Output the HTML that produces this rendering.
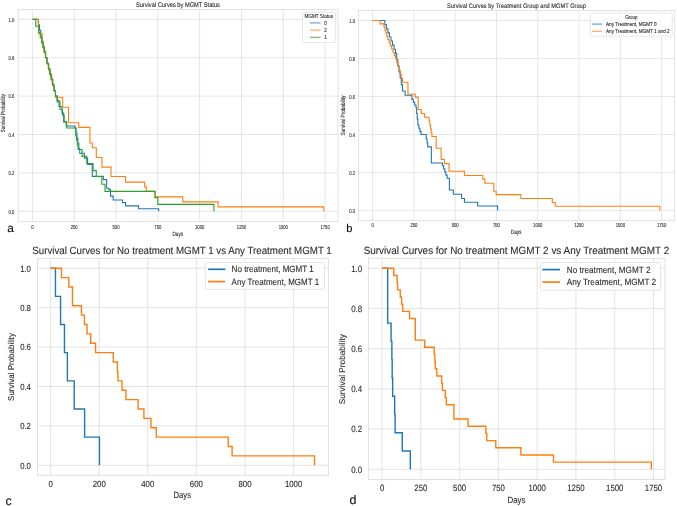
<!DOCTYPE html><html><head><meta charset="utf-8"><style>html,body{margin:0;padding:0;background:#fff;width:677px;height:506px;overflow:hidden}svg{display:block;filter:blur(0.3px);text-rendering:geometricPrecision;font-family:"Liberation Sans",sans-serif}</style></head><body>
<svg width="677" height="506" viewBox="0 0 677 506">
<rect width="677" height="506" fill="#fff"/>
<line x1="32.4" y1="9.6" x2="32.4" y2="221.5" stroke="#e0e0e0" stroke-width="0.8"/>
<line x1="74.21" y1="9.6" x2="74.21" y2="221.5" stroke="#e0e0e0" stroke-width="0.8"/>
<line x1="116.03" y1="9.6" x2="116.03" y2="221.5" stroke="#e0e0e0" stroke-width="0.8"/>
<line x1="157.84" y1="9.6" x2="157.84" y2="221.5" stroke="#e0e0e0" stroke-width="0.8"/>
<line x1="199.66" y1="9.6" x2="199.66" y2="221.5" stroke="#e0e0e0" stroke-width="0.8"/>
<line x1="241.47" y1="9.6" x2="241.47" y2="221.5" stroke="#e0e0e0" stroke-width="0.8"/>
<line x1="283.29" y1="9.6" x2="283.29" y2="221.5" stroke="#e0e0e0" stroke-width="0.8"/>
<line x1="325.1" y1="9.6" x2="325.1" y2="221.5" stroke="#e0e0e0" stroke-width="0.8"/>
<line x1="18.3" y1="211.3" x2="338" y2="211.3" stroke="#e0e0e0" stroke-width="0.8"/>
<line x1="18.3" y1="172.9" x2="338" y2="172.9" stroke="#e0e0e0" stroke-width="0.8"/>
<line x1="18.3" y1="134.5" x2="338" y2="134.5" stroke="#e0e0e0" stroke-width="0.8"/>
<line x1="18.3" y1="96.1" x2="338" y2="96.1" stroke="#e0e0e0" stroke-width="0.8"/>
<line x1="18.3" y1="57.7" x2="338" y2="57.7" stroke="#e0e0e0" stroke-width="0.8"/>
<line x1="18.3" y1="19.3" x2="338" y2="19.3" stroke="#e0e0e0" stroke-width="0.8"/>
<rect x="18.3" y="9.6" width="319.7" height="211.9" fill="none" stroke="#dddddd" stroke-width="0.8"/>
<path d="M32.4,19.3H38.3V24.79H39.52V30.27H40.74V35.76H41.96V41.24H43.18V46.73H44.39V52.21H45.61V57.7H47.02V63.19H48.43V68.67H49.84V74.16H51.25V79.64H52.66V85.13H54.07V90.61H55.48V96.1H57.15V100.52H58.99V106.47H62V113H63.68V121.83H66.19V126.05H75.05V127.97H75.99V133.04H76.92V138.11H77.86V143.18H78.8V148.25H79.73V153.32H84.42V158.12H87.59V164.45H92.28V176.36H103.32V179.62H106.66V188.26H109V189.6H110.51V196.13H113.19V199.97H122.55V202.66H125.56V205.92H138.61V208.8H158.68V211.3" fill="none" stroke="#1f77b4" stroke-width="1.1" stroke-opacity="1.0" stroke-linejoin="miter"/>
<path d="M32.4,19.3H38.42V33.7H42.1V44.26H43.77V50.88H45.45V57.51H47.12V64.13H48.79V70.76H50.46V77.38H52.14V84H53.81V90.63H55.48V97.25H62.67V107.24H68.53V122.79H78.73V127.4H89.94V142.95H92.28V147.75H96.29V157.54H101.98V167.14H111.01V176.55H125.56V182.12H144.63V186.92H146.3V191.33H155.17V196.9H182.76V201.89H218.06V206.88H323.76V211.3" fill="none" stroke="#ff7f0e" stroke-width="1.1" stroke-opacity="1.0" stroke-linejoin="miter"/>
<path d="M32.4,19.3H35.75V26.21H38.92V32.74H40.26V37.73H41.6V42.72H42.94V47.72H44.28V52.71H45.61V57.7H47.02V63.19H48.43V68.67H49.84V74.16H51.25V79.64H52.66V85.13H54.07V90.61H55.48V96.1H57.15V101.86H60V109.54H62.51V115.3H64.18V121.83H66.69V127.97H75.72V135.84H76.5V140.39H77.28V144.93H78.06V149.48H82.08V156.39H86.76V163.49H93.11V170.6H96.29V176.55H101.81V184.23H104.99V191.33H155V197.67H157.84V204.39H213.87V211.3" fill="none" stroke="#2ca02c" stroke-width="1.1" stroke-opacity="1.0" stroke-linejoin="miter"/>
<text transform="translate(14.3,213.5) scale(0.0720,0.1000)" font-size="58.0" text-anchor="end" fill="#2e2e2e" stroke="#2e2e2e" stroke-width="1.20" font-weight="normal" >0.0</text>
<text transform="translate(14.3,175.1) scale(0.0720,0.1000)" font-size="58.0" text-anchor="end" fill="#2e2e2e" stroke="#2e2e2e" stroke-width="1.20" font-weight="normal" >0.2</text>
<text transform="translate(14.3,136.7) scale(0.0720,0.1000)" font-size="58.0" text-anchor="end" fill="#2e2e2e" stroke="#2e2e2e" stroke-width="1.20" font-weight="normal" >0.4</text>
<text transform="translate(14.3,98.3) scale(0.0720,0.1000)" font-size="58.0" text-anchor="end" fill="#2e2e2e" stroke="#2e2e2e" stroke-width="1.20" font-weight="normal" >0.6</text>
<text transform="translate(14.3,59.9) scale(0.0720,0.1000)" font-size="58.0" text-anchor="end" fill="#2e2e2e" stroke="#2e2e2e" stroke-width="1.20" font-weight="normal" >0.8</text>
<text transform="translate(14.3,21.5) scale(0.0720,0.1000)" font-size="58.0" text-anchor="end" fill="#2e2e2e" stroke="#2e2e2e" stroke-width="1.20" font-weight="normal" >1.0</text>
<text transform="translate(32.4,229.2) scale(0.0720,0.1000)" font-size="58.0" text-anchor="middle" fill="#2e2e2e" stroke="#2e2e2e" stroke-width="1.20" font-weight="normal" >0</text>
<text transform="translate(74.21,229.2) scale(0.0720,0.1000)" font-size="58.0" text-anchor="middle" fill="#2e2e2e" stroke="#2e2e2e" stroke-width="1.20" font-weight="normal" >250</text>
<text transform="translate(116.03,229.2) scale(0.0720,0.1000)" font-size="58.0" text-anchor="middle" fill="#2e2e2e" stroke="#2e2e2e" stroke-width="1.20" font-weight="normal" >500</text>
<text transform="translate(157.84,229.2) scale(0.0720,0.1000)" font-size="58.0" text-anchor="middle" fill="#2e2e2e" stroke="#2e2e2e" stroke-width="1.20" font-weight="normal" >750</text>
<text transform="translate(199.66,229.2) scale(0.0720,0.1000)" font-size="58.0" text-anchor="middle" fill="#2e2e2e" stroke="#2e2e2e" stroke-width="1.20" font-weight="normal" >1000</text>
<text transform="translate(241.47,229.2) scale(0.0720,0.1000)" font-size="58.0" text-anchor="middle" fill="#2e2e2e" stroke="#2e2e2e" stroke-width="1.20" font-weight="normal" >1250</text>
<text transform="translate(283.29,229.2) scale(0.0720,0.1000)" font-size="58.0" text-anchor="middle" fill="#2e2e2e" stroke="#2e2e2e" stroke-width="1.20" font-weight="normal" >1500</text>
<text transform="translate(325.1,229.2) scale(0.0720,0.1000)" font-size="58.0" text-anchor="middle" fill="#2e2e2e" stroke="#2e2e2e" stroke-width="1.20" font-weight="normal" >1750</text>
<text transform="translate(177.8,235.6) scale(0.0750,0.1000)" font-size="63.0" text-anchor="middle" fill="#2e2e2e" stroke="#2e2e2e" stroke-width="1.20" font-weight="normal" >Days</text>
<text transform="translate(4.5,113.2) rotate(-90) scale(0.0750,0.1000)" font-size="60.0" text-anchor="middle" fill="#2e2e2e" stroke="#2e2e2e" stroke-width="1.20" font-weight="normal" >Survival Probability</text>
<text transform="translate(177.9,7.4) scale(0.1000)" font-size="67.0" text-anchor="middle" fill="#2e2e2e" stroke="#2e2e2e" stroke-width="1.20" textLength="840" lengthAdjust="spacingAndGlyphs">Survival Curves by MGMT Status</text>
<rect x="302.5" y="12.2" width="33.1" height="30.3" rx="1" fill="#fff" fill-opacity="0.85" stroke="#dddddd" stroke-width="0.7"/>
<text transform="translate(318.7,17.9) scale(0.1000)" font-size="57.0" text-anchor="middle" fill="#2e2e2e" stroke="#2e2e2e" stroke-width="1.20" textLength="286" lengthAdjust="spacingAndGlyphs">MGMT Status</text>
<line x1="310" y1="22.9" x2="320.5" y2="22.9" stroke="#1f77b4" stroke-width="1.1" stroke-opacity="0.75"/>
<text transform="translate(324.2,24.9) scale(0.0800,0.1000)" font-size="56.0" text-anchor="start" fill="#2e2e2e" stroke="#2e2e2e" stroke-width="1.20" font-weight="normal" >0</text>
<line x1="310" y1="30.1" x2="320.5" y2="30.1" stroke="#ff7f0e" stroke-width="1.1" stroke-opacity="0.75"/>
<text transform="translate(324.2,32.1) scale(0.0800,0.1000)" font-size="56.0" text-anchor="start" fill="#2e2e2e" stroke="#2e2e2e" stroke-width="1.20" font-weight="normal" >2</text>
<line x1="310" y1="37.3" x2="320.5" y2="37.3" stroke="#2ca02c" stroke-width="1.1" stroke-opacity="0.75"/>
<text transform="translate(324.2,39.3) scale(0.0800,0.1000)" font-size="56.0" text-anchor="start" fill="#2e2e2e" stroke="#2e2e2e" stroke-width="1.20" font-weight="normal" >1</text>
<text transform="translate(7.2,231.8) scale(0.1000,0.1000)" font-size="119.0" text-anchor="start" fill="#111" stroke="#111" stroke-width="1.20" font-weight="normal" >a</text>
<line x1="372.6" y1="10.6" x2="372.6" y2="220.4" stroke="#e0e0e0" stroke-width="0.8"/>
<line x1="413.89" y1="10.6" x2="413.89" y2="220.4" stroke="#e0e0e0" stroke-width="0.8"/>
<line x1="455.17" y1="10.6" x2="455.17" y2="220.4" stroke="#e0e0e0" stroke-width="0.8"/>
<line x1="496.46" y1="10.6" x2="496.46" y2="220.4" stroke="#e0e0e0" stroke-width="0.8"/>
<line x1="537.74" y1="10.6" x2="537.74" y2="220.4" stroke="#e0e0e0" stroke-width="0.8"/>
<line x1="579.03" y1="10.6" x2="579.03" y2="220.4" stroke="#e0e0e0" stroke-width="0.8"/>
<line x1="620.31" y1="10.6" x2="620.31" y2="220.4" stroke="#e0e0e0" stroke-width="0.8"/>
<line x1="661.6" y1="10.6" x2="661.6" y2="220.4" stroke="#e0e0e0" stroke-width="0.8"/>
<line x1="358.5" y1="210.6" x2="674.7" y2="210.6" stroke="#e0e0e0" stroke-width="0.8"/>
<line x1="358.5" y1="172.58" x2="674.7" y2="172.58" stroke="#e0e0e0" stroke-width="0.8"/>
<line x1="358.5" y1="134.56" x2="674.7" y2="134.56" stroke="#e0e0e0" stroke-width="0.8"/>
<line x1="358.5" y1="96.54" x2="674.7" y2="96.54" stroke="#e0e0e0" stroke-width="0.8"/>
<line x1="358.5" y1="58.52" x2="674.7" y2="58.52" stroke="#e0e0e0" stroke-width="0.8"/>
<line x1="358.5" y1="20.5" x2="674.7" y2="20.5" stroke="#e0e0e0" stroke-width="0.8"/>
<rect x="358.5" y="10.6" width="316.2" height="209.8" fill="none" stroke="#dddddd" stroke-width="0.8"/>
<path d="M372.6,20.5H384.86V24.61H386.39V28.72H387.92V32.83H389.44V36.94H390.97V41.05H392.5V45.17H394.03V49.28H395.55V53.39H396.71V59.53H397.87V65.68H399.02V71.83H400.18V78.23H401.33V84.63H402.49V91.03H405.13V95.21H411.9V99.39H413.28V102.18H414.66V104.97H416.03V107.76H416.64V113.52H417.24V119.29H417.85V125.05H418.9V128.22H419.94V131.39H420.99V134.56H425.45V134.56H426.22V138.68H426.99V142.8H427.76V146.92H431.39V163.07H441.3V163.07H442.46V165.51H443.61V168.7H444.77V171.9H445.92V175.09H447.08V178.28H449.39V190.07H453.35V194.25H461.61V198.43H464.42V202.24H477.63V206.04H497.61V210.6" fill="none" stroke="#1f77b4" stroke-width="1.1" stroke-opacity="1.0" stroke-linejoin="miter"/>
<path d="M372.6,20.5H380.03V23.92H383.96V27.04H384.92V30.16H385.88V33.27H386.84V36.39H387.79V39.51H389.09V42.68H390.38V45.85H391.67V49.01H392.97V52.18H394.26V55.35H395.55V58.52H396.71V62.48H397.87V66.44H399.02V70.4H400.18V74.36H401.33V78.32H402.49V82.28H407.94V94.26H415.21V97.11H418.18V109.47H421.32V113.46H424.62V117.26H429.11V121.1H429.81V124.94H430.5V128.78H431.19V132.62H431.89V136.46H436.18V148.25H441.13V159.46H444.44V163.65H449.06V171.25H464.42V175.43H482.75V178.85H484.9V183.23H493.81V191.21H496.13V194.63H520.9V198.43H552.28V202.43H555.25V206.23H659.78V210.6" fill="none" stroke="#ff7f0e" stroke-width="1.1" stroke-opacity="1.0" stroke-linejoin="miter"/>
<text transform="translate(355,212.8) scale(0.0720,0.1000)" font-size="58.0" text-anchor="end" fill="#2e2e2e" stroke="#2e2e2e" stroke-width="1.20" font-weight="normal" >0.0</text>
<text transform="translate(355,174.78) scale(0.0720,0.1000)" font-size="58.0" text-anchor="end" fill="#2e2e2e" stroke="#2e2e2e" stroke-width="1.20" font-weight="normal" >0.2</text>
<text transform="translate(355,136.76) scale(0.0720,0.1000)" font-size="58.0" text-anchor="end" fill="#2e2e2e" stroke="#2e2e2e" stroke-width="1.20" font-weight="normal" >0.4</text>
<text transform="translate(355,98.74) scale(0.0720,0.1000)" font-size="58.0" text-anchor="end" fill="#2e2e2e" stroke="#2e2e2e" stroke-width="1.20" font-weight="normal" >0.6</text>
<text transform="translate(355,60.72) scale(0.0720,0.1000)" font-size="58.0" text-anchor="end" fill="#2e2e2e" stroke="#2e2e2e" stroke-width="1.20" font-weight="normal" >0.8</text>
<text transform="translate(355,22.7) scale(0.0720,0.1000)" font-size="58.0" text-anchor="end" fill="#2e2e2e" stroke="#2e2e2e" stroke-width="1.20" font-weight="normal" >1.0</text>
<text transform="translate(372.6,227.4) scale(0.0720,0.1000)" font-size="58.0" text-anchor="middle" fill="#2e2e2e" stroke="#2e2e2e" stroke-width="1.20" font-weight="normal" >0</text>
<text transform="translate(413.89,227.4) scale(0.0720,0.1000)" font-size="58.0" text-anchor="middle" fill="#2e2e2e" stroke="#2e2e2e" stroke-width="1.20" font-weight="normal" >250</text>
<text transform="translate(455.17,227.4) scale(0.0720,0.1000)" font-size="58.0" text-anchor="middle" fill="#2e2e2e" stroke="#2e2e2e" stroke-width="1.20" font-weight="normal" >500</text>
<text transform="translate(496.46,227.4) scale(0.0720,0.1000)" font-size="58.0" text-anchor="middle" fill="#2e2e2e" stroke="#2e2e2e" stroke-width="1.20" font-weight="normal" >750</text>
<text transform="translate(537.74,227.4) scale(0.0720,0.1000)" font-size="58.0" text-anchor="middle" fill="#2e2e2e" stroke="#2e2e2e" stroke-width="1.20" font-weight="normal" >1000</text>
<text transform="translate(579.03,227.4) scale(0.0720,0.1000)" font-size="58.0" text-anchor="middle" fill="#2e2e2e" stroke="#2e2e2e" stroke-width="1.20" font-weight="normal" >1250</text>
<text transform="translate(620.31,227.4) scale(0.0720,0.1000)" font-size="58.0" text-anchor="middle" fill="#2e2e2e" stroke="#2e2e2e" stroke-width="1.20" font-weight="normal" >1500</text>
<text transform="translate(661.6,227.4) scale(0.0720,0.1000)" font-size="58.0" text-anchor="middle" fill="#2e2e2e" stroke="#2e2e2e" stroke-width="1.20" font-weight="normal" >1750</text>
<text transform="translate(516.1,234.2) scale(0.0750,0.1000)" font-size="63.0" text-anchor="middle" fill="#2e2e2e" stroke="#2e2e2e" stroke-width="1.20" font-weight="normal" >Days</text>
<text transform="translate(345.3,115.5) rotate(-90) scale(0.0780,0.1000)" font-size="60.0" text-anchor="middle" fill="#2e2e2e" stroke="#2e2e2e" stroke-width="1.20" font-weight="normal" >Survival Probability</text>
<text transform="translate(516.4,7.9) scale(0.1000)" font-size="66.0" text-anchor="middle" fill="#2e2e2e" stroke="#2e2e2e" stroke-width="1.20" textLength="1390" lengthAdjust="spacingAndGlyphs">Survival Curves by Treatment Group and MGMT Group</text>
<rect x="590.4" y="13.0" width="81.8" height="23.2" rx="1" fill="#fff" fill-opacity="0.85" stroke="#dddddd" stroke-width="0.7"/>
<text transform="translate(631.3,19) scale(0.1000)" font-size="57.0" text-anchor="middle" fill="#2e2e2e" stroke="#2e2e2e" stroke-width="1.20" textLength="123" lengthAdjust="spacingAndGlyphs">Group</text>
<line x1="592" y1="24.1" x2="601.9" y2="24.1" stroke="#1f77b4" stroke-width="1.1" stroke-opacity="0.75"/>
<text transform="translate(606,26.1) scale(0.1000)" font-size="56.0" text-anchor="start" fill="#2e2e2e" stroke="#2e2e2e" stroke-width="1.20" textLength="506" lengthAdjust="spacingAndGlyphs">Any Treatment, MGMT 0</text>
<line x1="592" y1="31.3" x2="601.9" y2="31.3" stroke="#ff7f0e" stroke-width="1.1" stroke-opacity="0.75"/>
<text transform="translate(606,33.3) scale(0.1000)" font-size="56.0" text-anchor="start" fill="#2e2e2e" stroke="#2e2e2e" stroke-width="1.20" textLength="636" lengthAdjust="spacingAndGlyphs">Any Treatment, MGMT 1 and 2</text>
<text transform="translate(346.3,231.6) scale(0.1000,0.1000)" font-size="112.0" text-anchor="start" fill="#111" stroke="#111" stroke-width="1.20" font-weight="normal" >b</text>
<line x1="50.6" y1="258.4" x2="50.6" y2="475.3" stroke="#e0e0e0" stroke-width="0.9"/>
<line x1="99.2" y1="258.4" x2="99.2" y2="475.3" stroke="#e0e0e0" stroke-width="0.9"/>
<line x1="147.8" y1="258.4" x2="147.8" y2="475.3" stroke="#e0e0e0" stroke-width="0.9"/>
<line x1="196.4" y1="258.4" x2="196.4" y2="475.3" stroke="#e0e0e0" stroke-width="0.9"/>
<line x1="245" y1="258.4" x2="245" y2="475.3" stroke="#e0e0e0" stroke-width="0.9"/>
<line x1="293.6" y1="258.4" x2="293.6" y2="475.3" stroke="#e0e0e0" stroke-width="0.9"/>
<line x1="37.5" y1="465.3" x2="328.4" y2="465.3" stroke="#e0e0e0" stroke-width="0.9"/>
<line x1="37.5" y1="425.88" x2="328.4" y2="425.88" stroke="#e0e0e0" stroke-width="0.9"/>
<line x1="37.5" y1="386.46" x2="328.4" y2="386.46" stroke="#e0e0e0" stroke-width="0.9"/>
<line x1="37.5" y1="347.04" x2="328.4" y2="347.04" stroke="#e0e0e0" stroke-width="0.9"/>
<line x1="37.5" y1="307.62" x2="328.4" y2="307.62" stroke="#e0e0e0" stroke-width="0.9"/>
<line x1="37.5" y1="268.2" x2="328.4" y2="268.2" stroke="#e0e0e0" stroke-width="0.9"/>
<rect x="37.5" y="258.4" width="290.9" height="216.9" fill="none" stroke="#dddddd" stroke-width="0.9"/>
<path d="M50.6,268.2H55.46V296.36H60.56V324.51H64.45V352.67H67.37V380.83H74.17V408.99H84.62V437.14H99.44V465.3" fill="none" stroke="#1f77b4" stroke-width="1.4" stroke-opacity="1.0" stroke-linejoin="miter"/>
<path d="M50.6,268.2H61.41V277.59H68.83V286.97H72.47V305.74H81.46V315.13H84.38V324.51H87.05V333.9H90.7V343.29H95.56V352.67H113.29V362.06H117.43V371.44H117.91V380.83H122.04V390.21H125.93V399.6H138.08V408.99H143.91V418.37H150.96V427.76H156.31V437.14H228.23V446.53H232.12V455.91H314.5V465.3" fill="none" stroke="#ff7f0e" stroke-width="1.4" stroke-opacity="1.0" stroke-linejoin="miter"/>
<text transform="translate(30.9,468.6) scale(0.0870,0.1000)" font-size="89.0" text-anchor="end" fill="#2e2e2e" stroke="#2e2e2e" stroke-width="1.20" font-weight="normal" >0.0</text>
<text transform="translate(30.9,429.18) scale(0.0870,0.1000)" font-size="89.0" text-anchor="end" fill="#2e2e2e" stroke="#2e2e2e" stroke-width="1.20" font-weight="normal" >0.2</text>
<text transform="translate(30.9,389.76) scale(0.0870,0.1000)" font-size="89.0" text-anchor="end" fill="#2e2e2e" stroke="#2e2e2e" stroke-width="1.20" font-weight="normal" >0.4</text>
<text transform="translate(30.9,350.34) scale(0.0870,0.1000)" font-size="89.0" text-anchor="end" fill="#2e2e2e" stroke="#2e2e2e" stroke-width="1.20" font-weight="normal" >0.6</text>
<text transform="translate(30.9,310.92) scale(0.0870,0.1000)" font-size="89.0" text-anchor="end" fill="#2e2e2e" stroke="#2e2e2e" stroke-width="1.20" font-weight="normal" >0.8</text>
<text transform="translate(30.9,271.5) scale(0.0870,0.1000)" font-size="89.0" text-anchor="end" fill="#2e2e2e" stroke="#2e2e2e" stroke-width="1.20" font-weight="normal" >1.0</text>
<text transform="translate(50.6,487.1) scale(0.0880,0.1000)" font-size="89.0" text-anchor="middle" fill="#2e2e2e" stroke="#2e2e2e" stroke-width="1.20" font-weight="normal" >0</text>
<text transform="translate(99.2,487.1) scale(0.0880,0.1000)" font-size="89.0" text-anchor="middle" fill="#2e2e2e" stroke="#2e2e2e" stroke-width="1.20" font-weight="normal" >200</text>
<text transform="translate(147.8,487.1) scale(0.0880,0.1000)" font-size="89.0" text-anchor="middle" fill="#2e2e2e" stroke="#2e2e2e" stroke-width="1.20" font-weight="normal" >400</text>
<text transform="translate(196.4,487.1) scale(0.0880,0.1000)" font-size="89.0" text-anchor="middle" fill="#2e2e2e" stroke="#2e2e2e" stroke-width="1.20" font-weight="normal" >600</text>
<text transform="translate(245,487.1) scale(0.0880,0.1000)" font-size="89.0" text-anchor="middle" fill="#2e2e2e" stroke="#2e2e2e" stroke-width="1.20" font-weight="normal" >800</text>
<text transform="translate(293.6,487.1) scale(0.0880,0.1000)" font-size="89.0" text-anchor="middle" fill="#2e2e2e" stroke="#2e2e2e" stroke-width="1.20" font-weight="normal" >1000</text>
<text transform="translate(182.3,498.4) scale(0.0850,0.1000)" font-size="90.0" text-anchor="middle" fill="#2e2e2e" stroke="#2e2e2e" stroke-width="1.20" font-weight="normal" >Days</text>
<text transform="translate(13.6,367) rotate(-90) scale(0.0950,0.1000)" font-size="84.0" text-anchor="middle" fill="#2e2e2e" stroke="#2e2e2e" stroke-width="1.20" font-weight="normal" >Survival Probability</text>
<text transform="translate(182,253.7) scale(0.1000)" font-size="105.0" text-anchor="middle" fill="#2e2e2e" stroke="#2e2e2e" stroke-width="1.20" textLength="2995" lengthAdjust="spacingAndGlyphs">Survival Curves for No treatment MGMT 1 vs Any Treatment MGMT 1</text>
<rect x="205.3" y="262.6" width="119.2" height="26.7" rx="2" fill="#fff" fill-opacity="0.85" stroke="#dddddd" stroke-width="0.8"/>
<line x1="208.1" y1="269.3" x2="225.3" y2="269.3" stroke="#1f77b4" stroke-width="1.7"/>
<text transform="translate(231.6,272.4) scale(0.1000)" font-size="90.0" text-anchor="start" fill="#2e2e2e" stroke="#2e2e2e" stroke-width="1.20" textLength="822" lengthAdjust="spacingAndGlyphs">No treatment, MGMT 1</text>
<line x1="208.1" y1="281.6" x2="225.3" y2="281.6" stroke="#ff7f0e" stroke-width="1.7"/>
<text transform="translate(231.6,284.7) scale(0.1000)" font-size="90.0" text-anchor="start" fill="#2e2e2e" stroke="#2e2e2e" stroke-width="1.20" textLength="876" lengthAdjust="spacingAndGlyphs">Any Treatment, MGMT 1</text>
<text transform="translate(5.5,505) scale(0.1000,0.1000)" font-size="125.0" text-anchor="start" fill="#111" stroke="#111" stroke-width="1.20" font-weight="normal" >c</text>
<line x1="382.1" y1="258.3" x2="382.1" y2="479.5" stroke="#e0e0e0" stroke-width="0.9"/>
<line x1="420.87" y1="258.3" x2="420.87" y2="479.5" stroke="#e0e0e0" stroke-width="0.9"/>
<line x1="459.64" y1="258.3" x2="459.64" y2="479.5" stroke="#e0e0e0" stroke-width="0.9"/>
<line x1="498.41" y1="258.3" x2="498.41" y2="479.5" stroke="#e0e0e0" stroke-width="0.9"/>
<line x1="537.19" y1="258.3" x2="537.19" y2="479.5" stroke="#e0e0e0" stroke-width="0.9"/>
<line x1="575.96" y1="258.3" x2="575.96" y2="479.5" stroke="#e0e0e0" stroke-width="0.9"/>
<line x1="614.73" y1="258.3" x2="614.73" y2="479.5" stroke="#e0e0e0" stroke-width="0.9"/>
<line x1="653.5" y1="258.3" x2="653.5" y2="479.5" stroke="#e0e0e0" stroke-width="0.9"/>
<line x1="368.4" y1="469.3" x2="665" y2="469.3" stroke="#e0e0e0" stroke-width="0.9"/>
<line x1="368.4" y1="429.1" x2="665" y2="429.1" stroke="#e0e0e0" stroke-width="0.9"/>
<line x1="368.4" y1="388.9" x2="665" y2="388.9" stroke="#e0e0e0" stroke-width="0.9"/>
<line x1="368.4" y1="348.7" x2="665" y2="348.7" stroke="#e0e0e0" stroke-width="0.9"/>
<line x1="368.4" y1="308.5" x2="665" y2="308.5" stroke="#e0e0e0" stroke-width="0.9"/>
<line x1="368.4" y1="268.3" x2="665" y2="268.3" stroke="#e0e0e0" stroke-width="0.9"/>
<rect x="368.4" y="258.3" width="296.6" height="221.2" fill="none" stroke="#dddddd" stroke-width="0.9"/>
<path d="M382.1,268.3H387.68V323.12H391.09V341.39H391.87V359.66H392.18V377.94H392.65V396.21H394.66V414.48H395.13V432.75H402.26V451.03H410.33V469.3" fill="none" stroke="#1f77b4" stroke-width="1.4" stroke-opacity="1.0" stroke-linejoin="miter"/>
<path d="M382.1,268.3H393.73V275.48H397.14V282.66H397.61V289.84H400.25V297.01H401.64V304.19H402.73V311.37H409.55V318.55H415.29V340.09H424.75V347.26H434.21V354.44H434.83V361.62H435.29V368.8H436.85V375.98H441.65V383.16H442.43V390.34H445.22V397.51H446.31V404.69H453.9V419.05H468.02V426.23H485.85V433.41H486.78V440.59H495.78V447.76H520.9V454.94H553.47V462.12H651.33V469.3" fill="none" stroke="#ff7f0e" stroke-width="1.4" stroke-opacity="1.0" stroke-linejoin="miter"/>
<text transform="translate(362.2,472.6) scale(0.0870,0.1000)" font-size="91.0" text-anchor="end" fill="#2e2e2e" stroke="#2e2e2e" stroke-width="1.20" font-weight="normal" >0.0</text>
<text transform="translate(362.2,432.4) scale(0.0870,0.1000)" font-size="91.0" text-anchor="end" fill="#2e2e2e" stroke="#2e2e2e" stroke-width="1.20" font-weight="normal" >0.2</text>
<text transform="translate(362.2,392.2) scale(0.0870,0.1000)" font-size="91.0" text-anchor="end" fill="#2e2e2e" stroke="#2e2e2e" stroke-width="1.20" font-weight="normal" >0.4</text>
<text transform="translate(362.2,352) scale(0.0870,0.1000)" font-size="91.0" text-anchor="end" fill="#2e2e2e" stroke="#2e2e2e" stroke-width="1.20" font-weight="normal" >0.6</text>
<text transform="translate(362.2,311.8) scale(0.0870,0.1000)" font-size="91.0" text-anchor="end" fill="#2e2e2e" stroke="#2e2e2e" stroke-width="1.20" font-weight="normal" >0.8</text>
<text transform="translate(362.2,271.6) scale(0.0870,0.1000)" font-size="91.0" text-anchor="end" fill="#2e2e2e" stroke="#2e2e2e" stroke-width="1.20" font-weight="normal" >1.0</text>
<text transform="translate(382.1,491.4) scale(0.0850,0.1000)" font-size="92.0" text-anchor="middle" fill="#2e2e2e" stroke="#2e2e2e" stroke-width="1.20" font-weight="normal" >0</text>
<text transform="translate(420.87,491.4) scale(0.0850,0.1000)" font-size="92.0" text-anchor="middle" fill="#2e2e2e" stroke="#2e2e2e" stroke-width="1.20" font-weight="normal" >250</text>
<text transform="translate(459.64,491.4) scale(0.0850,0.1000)" font-size="92.0" text-anchor="middle" fill="#2e2e2e" stroke="#2e2e2e" stroke-width="1.20" font-weight="normal" >500</text>
<text transform="translate(498.41,491.4) scale(0.0850,0.1000)" font-size="92.0" text-anchor="middle" fill="#2e2e2e" stroke="#2e2e2e" stroke-width="1.20" font-weight="normal" >750</text>
<text transform="translate(537.19,491.4) scale(0.0850,0.1000)" font-size="92.0" text-anchor="middle" fill="#2e2e2e" stroke="#2e2e2e" stroke-width="1.20" font-weight="normal" >1000</text>
<text transform="translate(575.96,491.4) scale(0.0850,0.1000)" font-size="92.0" text-anchor="middle" fill="#2e2e2e" stroke="#2e2e2e" stroke-width="1.20" font-weight="normal" >1250</text>
<text transform="translate(614.73,491.4) scale(0.0850,0.1000)" font-size="92.0" text-anchor="middle" fill="#2e2e2e" stroke="#2e2e2e" stroke-width="1.20" font-weight="normal" >1500</text>
<text transform="translate(653.5,491.4) scale(0.0850,0.1000)" font-size="92.0" text-anchor="middle" fill="#2e2e2e" stroke="#2e2e2e" stroke-width="1.20" font-weight="normal" >1750</text>
<text transform="translate(516.5,502.8) scale(0.0860,0.1000)" font-size="92.0" text-anchor="middle" fill="#2e2e2e" stroke="#2e2e2e" stroke-width="1.20" font-weight="normal" >Days</text>
<text transform="translate(345.1,369.2) rotate(-90) scale(0.0970,0.1000)" font-size="85.0" text-anchor="middle" fill="#2e2e2e" stroke="#2e2e2e" stroke-width="1.20" font-weight="normal" >Survival Probability</text>
<text transform="translate(516.4,253.8) scale(0.1000)" font-size="106.0" text-anchor="middle" fill="#2e2e2e" stroke="#2e2e2e" stroke-width="1.20" textLength="3055" lengthAdjust="spacingAndGlyphs">Survival Curves for No treatment MGMT 2 vs Any Treatment MGMT 2</text>
<rect x="540.4" y="262.6" width="120.3" height="27.7" rx="2" fill="#fff" fill-opacity="0.85" stroke="#dddddd" stroke-width="0.8"/>
<line x1="542.4" y1="269.6" x2="560" y2="269.6" stroke="#1f77b4" stroke-width="1.7"/>
<text transform="translate(566.7,272.7) scale(0.1000)" font-size="91.0" text-anchor="start" fill="#2e2e2e" stroke="#2e2e2e" stroke-width="1.20" textLength="838" lengthAdjust="spacingAndGlyphs">No treatment, MGMT 2</text>
<line x1="542.4" y1="282.1" x2="560" y2="282.1" stroke="#ff7f0e" stroke-width="1.7"/>
<text transform="translate(566.7,285.2) scale(0.1000)" font-size="91.0" text-anchor="start" fill="#2e2e2e" stroke="#2e2e2e" stroke-width="1.20" textLength="894" lengthAdjust="spacingAndGlyphs">Any Treatment, MGMT 2</text>
<text transform="translate(349.6,504.2) scale(0.1000,0.1000)" font-size="125.0" text-anchor="start" fill="#111" stroke="#111" stroke-width="1.20" font-weight="normal" >d</text>
</svg></body></html>
